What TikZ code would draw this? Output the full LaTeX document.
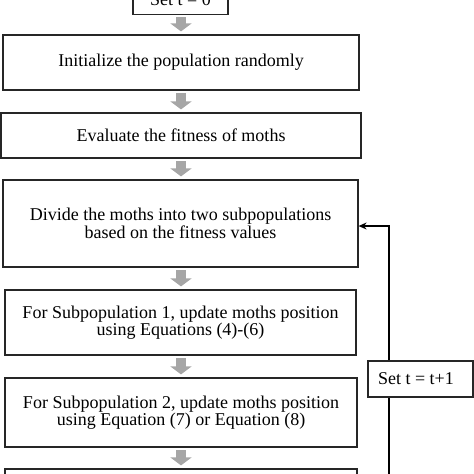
\documentclass[tikz,border=0pt]{standalone}
\usepackage{fontspec}
\setmainfont{Liberation Serif}
\usetikzlibrary{arrows.meta,calc}
\begin{document}
\begin{tikzpicture}[x=1pt,y=1pt,
  box/.style={draw=black!85, line width=1.2pt, fill=white, inner sep=0pt, align=center,
    font=\fontsize{18}{17.6}\selectfont},
  grayarr/.style={draw=black!35, line width=10pt, -{Triangle[width=21pt,length=8pt]}},
  fbline/.style={draw=black, line width=1.4pt},
  fbarr/.style={fbline, -{Stealth[length=8pt,width=7pt]}}]
\useasboundingbox (0,0) rectangle (474,-474);
\node[box, minimum width=95pt, minimum height=27pt] (b0) at (180.5,-0.8) {\raisebox{2.5pt}{Set t = 0}};
\node[box, minimum width=356pt, minimum height=55pt] (b1) at (181,-62.5) {Initialize the population randomly};
\node[box, minimum width=360pt, minimum height=45pt] (b2) at (181,-135.5) {Evaluate the fitness of moths};
\node[box, minimum width=355pt, minimum height=87pt] (b3) at (180.5,-223.5) {Divide the moths into two subpopulations\\based on the fitness values};
\node[box, minimum width=351pt, minimum height=65pt] (b4) at (180.5,-322.5) {For Subpopulation 1, update moths position\\using Equations (4)-(6)};
\node[box, minimum width=352pt, minimum height=69pt] (b5) at (181,-412.5) {For Subpopulation 2, update moths position\\using Equation (7) or Equation (8)};
\node[box, minimum width=352pt, minimum height=51pt] (b6) at (181,-494.5) {};
\node[box, minimum width=105pt, minimum height=36pt] (sett) at (420.5,-379) {\hspace*{-9pt}Set t = t+1};
\foreach \a/\b in {b0/b1,b1/b2,b2/b3,b3/b4,b4/b5,b5/b6}{
  \draw[grayarr] ([yshift=-2.5pt]\a.south -| 181,0) -- ([yshift=3pt]\b.north -| 181,0);
}
\coordinate (fb) at (389,-480);
\coordinate (turn) at (389,-226);
\draw[fbline] (fb) -- (fb |- sett.south);
\draw[fbarr] (sett.north -| turn) -- (turn) -- (turn -| b3.east);
\end{tikzpicture}
\end{document}
